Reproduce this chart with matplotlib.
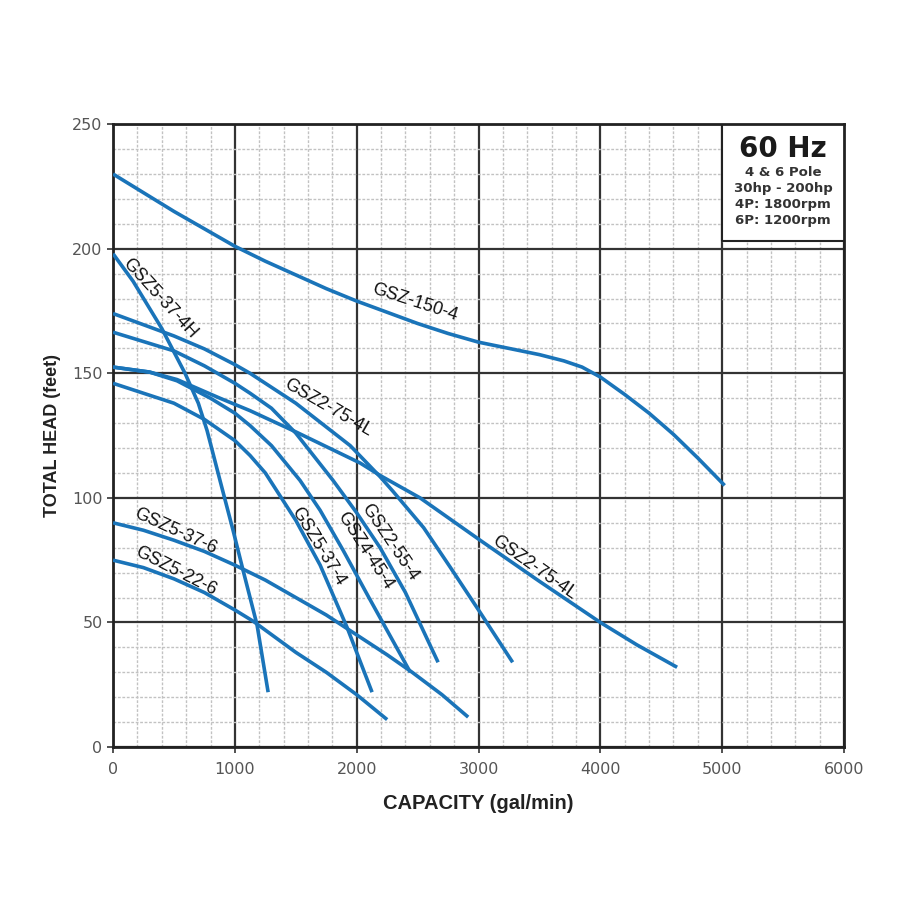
import numpy as np
import matplotlib
matplotlib.use('Agg')
from matplotlib import pyplot as plt
from matplotlib.ticker import MultipleLocator

# pump curves: capacity (gal/min) vs total head (feet)
gsz150_4_q = [0, 250, 500, 750, 1000, 1250, 1500, 1750, 2000, 2250, 2500, 2750, 3000, 3250, 3500, 3700,
              3850, 4000, 4200, 4400, 4600, 4800, 5020]
gsz150_4_h = [230, 222.5, 215, 208, 201, 195, 189.5, 184, 179, 174.5, 170, 166, 162.5, 160, 157.5, 155,
              152.5, 148.5, 141.5, 134, 125.5, 116, 105]

gsz5_37_4h_q = [0, 164, 400, 591, 700, 772, 878, 985, 1067, 1182, 1273]
gsz5_37_4h_h = [198, 187, 168, 150, 138, 127, 107, 87, 71, 49, 22]

gsz2_75_4l_a_q = [0, 500, 750, 1000, 1125, 1500, 1946, 2192, 2300, 2550, 2770, 3000, 3280]
gsz2_75_4l_a_h = [174, 165, 159.8, 153.5, 150, 138, 121, 108.5, 102.5, 88, 72, 55, 34]

gsz2_75_4l_b_q = [0, 300, 525, 878, 1125, 1500, 2028, 2192, 2520, 3013, 3500, 4000, 4300, 4630]
gsz2_75_4l_b_h = [152.5, 150.5, 147.5, 140, 135, 126.5, 114, 109, 100, 83, 66.5, 50, 41, 32]

gsz2_55_4_q = [0, 500, 750, 1000, 1125, 1300, 1500, 1806, 2000, 2192, 2400, 2668]
gsz2_55_4_h = [166.5, 159, 153, 146, 142, 136, 126, 107, 94, 80, 62, 34]

gsz4_45_4_q = [0, 300, 525, 800, 1000, 1125, 1300, 1535, 1700, 1888, 2100, 2440]
gsz4_45_4_h = [152.5, 150.5, 147, 140, 134, 129, 121, 107, 95, 79, 60, 30]

gsz5_37_4_q = [0, 500, 750, 1000, 1125, 1250, 1500, 1700, 1921, 2126]
gsz5_37_4_h = [146, 138, 131.5, 123, 117, 110, 91, 73, 48, 22]

gsz5_37_6_q = [0, 250, 500, 750, 1000, 1250, 1500, 1750, 2000, 2250, 2455, 2700, 2915]
gsz5_37_6_h = [90, 87, 83, 78.5, 73, 67, 60, 53, 45, 37, 30, 21, 12]

gsz5_22_6_q = [0, 250, 500, 750, 1000, 1150, 1500, 1750, 2000, 2250]
gsz5_22_6_h = [75, 72, 67.5, 62, 55, 50.5, 38, 30, 21, 11]

curves = [
    (gsz150_4_q, gsz150_4_h),
    (gsz5_37_4h_q, gsz5_37_4h_h),
    (gsz2_75_4l_a_q, gsz2_75_4l_a_h),
    (gsz2_75_4l_b_q, gsz2_75_4l_b_h),
    (gsz2_55_4_q, gsz2_55_4_h),
    (gsz4_45_4_q, gsz4_45_4_h),
    (gsz5_37_4_q, gsz5_37_4_h),
    (gsz5_37_6_q, gsz5_37_6_h),
    (gsz5_22_6_q, gsz5_22_6_h),
]

# curve labels: text, x, y, rotation
labels = ['GSZ-150-4', 'GSZ5-37-4H', 'GSZ2-75-4L', 'GSZ2-75-4L', 'GSZ5-37-4',
          'GSZ4-45-4', 'GSZ2-55-4', 'GSZ5-37-6', 'GSZ5-22-6']
label_x = [2480, 386, 1765, 3456, 1683, 2069, 2274, 509, 517]
label_y = [178.6, 180, 136, 72, 80.6, 78.6, 82, 86.7, 70.6]
label_rot = [-18, -47.5, -30, -35, -58.5, -57, -56, -24.5, -27]

info_lines = ['4 & 6 Pole', '30hp - 200hp', '4P: 1800rpm', '6P: 1200rpm']

blue = '#1a74b9'

fig = plt.figure(figsize=(9, 9), dpi=100)
ax = fig.add_axes([0.1256, 0.17, 0.8122, 0.692])

for q, h in curves:
    ax.plot(q, h, color=blue, lw=2.6, solid_capstyle='butt', solid_joinstyle='round', zorder=3)

for t, x, y, r in zip(labels, label_x, label_y, label_rot):
    ax.text(x, y, t, rotation=r, ha='center', va='center', fontsize=13, family='Liberation Sans',
            color='#111111', rotation_mode='anchor', zorder=4)

ax.set_xlim(0, 6000)
ax.set_ylim(0, 250)
ax.xaxis.set_major_locator(MultipleLocator(1000))
ax.xaxis.set_minor_locator(MultipleLocator(200))
ax.yaxis.set_major_locator(MultipleLocator(50))
ax.yaxis.set_minor_locator(MultipleLocator(10))
ax.grid(which='major', color='#333333', lw=1.6, zorder=1)
ax.grid(which='minor', color='#c2c2c2', lw=1.0, ls=(0, (2, 1.2)), zorder=0)
ax.set_axisbelow(True)
ax.tick_params(which='major', direction='out', length=4, width=1.2, colors='#333333',
               labelcolor='#555555', labelsize=11.5)
ax.tick_params(axis='x', which='major', pad=7)
ax.tick_params(which='minor', length=0)
for s in ax.spines.values():
    s.set_linewidth(2)
    s.set_color('#222222')

ax.set_xlabel('CAPACITY (gal/min)', fontsize=14.5, fontweight='bold', family='Liberation Sans',
              color='#222222', labelpad=12)
ax.set_ylabel('TOTAL HEAD (feet)', fontsize=13, fontweight='bold', family='Liberation Sans',
              color='#222222', labelpad=8)

# info box in the upper right corner
ax.fill_between([5000, 6000], 203, 250, color='white', zorder=2)
ax.plot([5000, 5000, 6000], [250, 203, 203], color='#222222', lw=1.5, zorder=2)
ax.text(5500, 240, '60 Hz', ha='center', va='center', fontsize=20, fontweight='bold',
        color='#1a1a1a', zorder=5)
for i, line in enumerate(info_lines):
    ax.text(5500, 230.5 - i * 6.4, line, ha='center', va='center', fontsize=9.5,
            fontweight='bold', color='#333333', zorder=5)

plt.savefig('out.png', dpi=100)
